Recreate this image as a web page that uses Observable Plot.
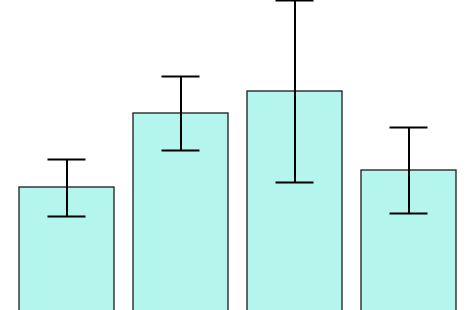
<!DOCTYPE html>
<html>
<head>
<meta charset="utf-8">
<script src="https://cdn.jsdelivr.net/npm/d3@7"></script>
<script src="https://cdn.jsdelivr.net/npm/@observablehq/plot@0.6"></script>
<style>
  html, body { margin: 0; padding: 0; background: #fff; overflow: hidden; }
  #chart svg { display: block; }
</style>
</head>
<body>
<div id="chart"></div>
<script>
const categories = ["A", "B", "C", "D"];
const means = [125, 199, 221, 142];
const upper = [153, 236, 312, 185];
const lower = [96, 162, 130, 99];

const data = categories.map((c, i) => ({cat: c, mean: means[i], hi: upper[i], lo: lower[i]}));

const capInset = 28.5;

const chart = Plot.plot({
  width: 474,
  height: 310,
  margin: 0,
  style: {background: "#fff", overflow: "hidden"},
  x: {domain: categories, range: [17, 457], paddingInner: 0.17, paddingOuter: 0, axis: null},
  y: {domain: [0, 312], range: [312, 0], axis: null},
  marks: [
    Plot.barY(data, {x: "cat", y: "mean", fill: "#b4f6ee", stroke: "#1a1a1a", strokeWidth: 1.3}),
    Plot.ruleX(data, {x: "cat", y1: "lo", y2: "hi", stroke: "#000", strokeWidth: 2}),
    Plot.tickY(data, {x: "cat", y: "hi", stroke: "#000", strokeWidth: 2, insetLeft: capInset, insetRight: capInset}),
    Plot.tickY(data, {x: "cat", y: "lo", stroke: "#000", strokeWidth: 2, insetLeft: capInset, insetRight: capInset})
  ]
});
document.getElementById("chart").appendChild(chart);
</script>
</body>
</html>
